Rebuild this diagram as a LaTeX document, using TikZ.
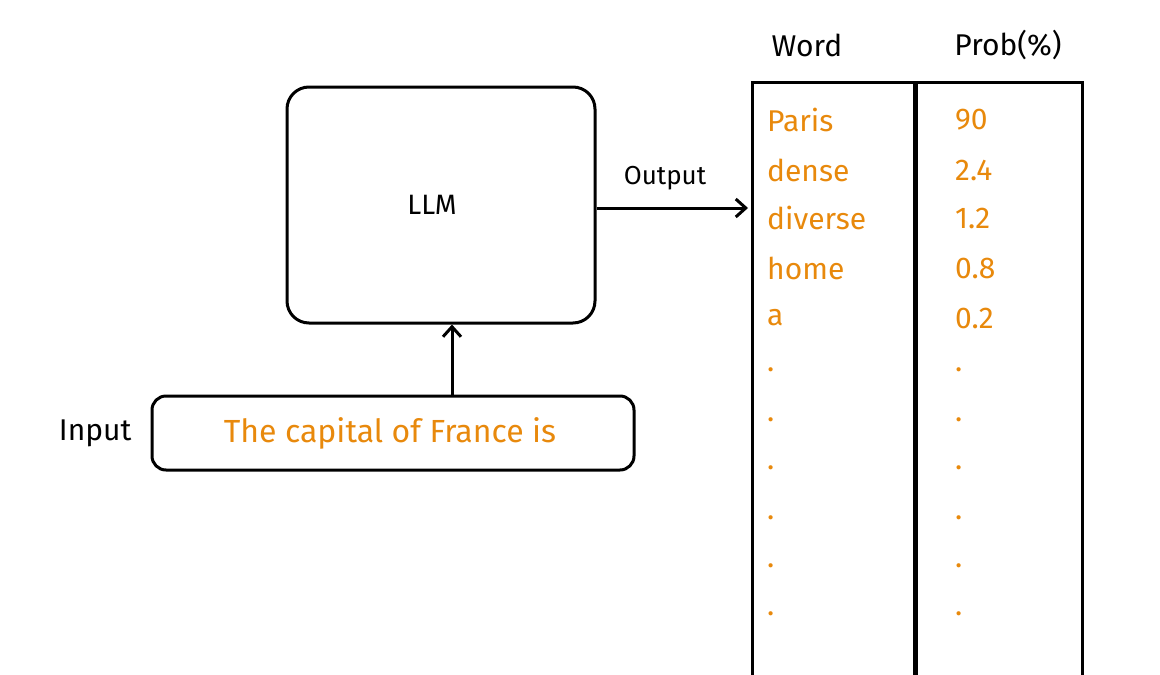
\documentclass[tikz,border=0pt]{standalone}
\usetikzlibrary{arrows.meta}
\usepackage{fontspec}
\setmainfont{Fira Sans}
\definecolor{org}{HTML}{E8890C}
\begin{document}
\begin{tikzpicture}[x=1pt,y=-1pt,
  box/.style={draw,line width=3pt,rounded corners=22pt},
  ln/.style={line width=3pt},
  arr/.style={line width=3pt,-{Straight Barb[length=10pt,width=18pt]}},
  txt/.style={font=\fontsize{30}{36}\selectfont,anchor=west,inner sep=0},
  otxt/.style={txt,text=org}]
\useasboundingbox (0,0) rectangle (1160,675);
\node[box,minimum width=308pt,minimum height=236pt] (llm) at (441,205) {};
\node[font=\fontsize{28}{34}\selectfont] (llmt) at (432,205) {LLM};
\node[box,rounded corners=14pt,minimum width=482pt,minimum height=74pt] (inp) at (393,433) {};
\node[text=org,font=\fontsize{32}{38}\selectfont] (inpt) at (390,433) {The capital of France is};
\node[font=\fontsize{30}{36}\selectfont,anchor=east] (inl) at (135,433) {Input};
\draw[arr] (inp.north -| 452,0) -- (llm.south -| 452,0);
\coordinate (tl) at (752,82);
\coordinate (tr) at (1082,82);
\coordinate (tm) at (915,82);
\coordinate (bl) at (752,675);
\coordinate (br) at (1082,675);
\coordinate (bm) at (915,675);
\draw[ln] (bl) -- (tl) -- (tr) -- (br);
\draw[line width=5pt] (tm) -- (bm);
\coordinate (tin) at (748,208);
\draw[arr] (llm.east |- tin) -- (tin);
\node[font=\fontsize{26}{30}\selectfont] (outl) at (665,178) {Output};
\node[font=\fontsize{30}{36}\selectfont] (h1) at (807,45) {Word};
\node[font=\fontsize{30}{36}\selectfont] (h2) at (1008,45) {Prob(\%)};
\foreach \w/\p/\y [count=\i] in {Paris/90/120,dense/2.4/170,diverse/1.2/218,home/0.8/268,a/0.2/318}{
  \node[otxt] (w\i) at (767,\y) {\w};
  \node[otxt] (p\i) at (955,\y) {\p};
}
\foreach \y [count=\i] in {370,420,468,518,566,614}{
  \node[otxt] (dw\i) at (767,\y) {.};
  \node[otxt] (dp\i) at (955,\y) {.};
}
\end{tikzpicture}
\end{document}
